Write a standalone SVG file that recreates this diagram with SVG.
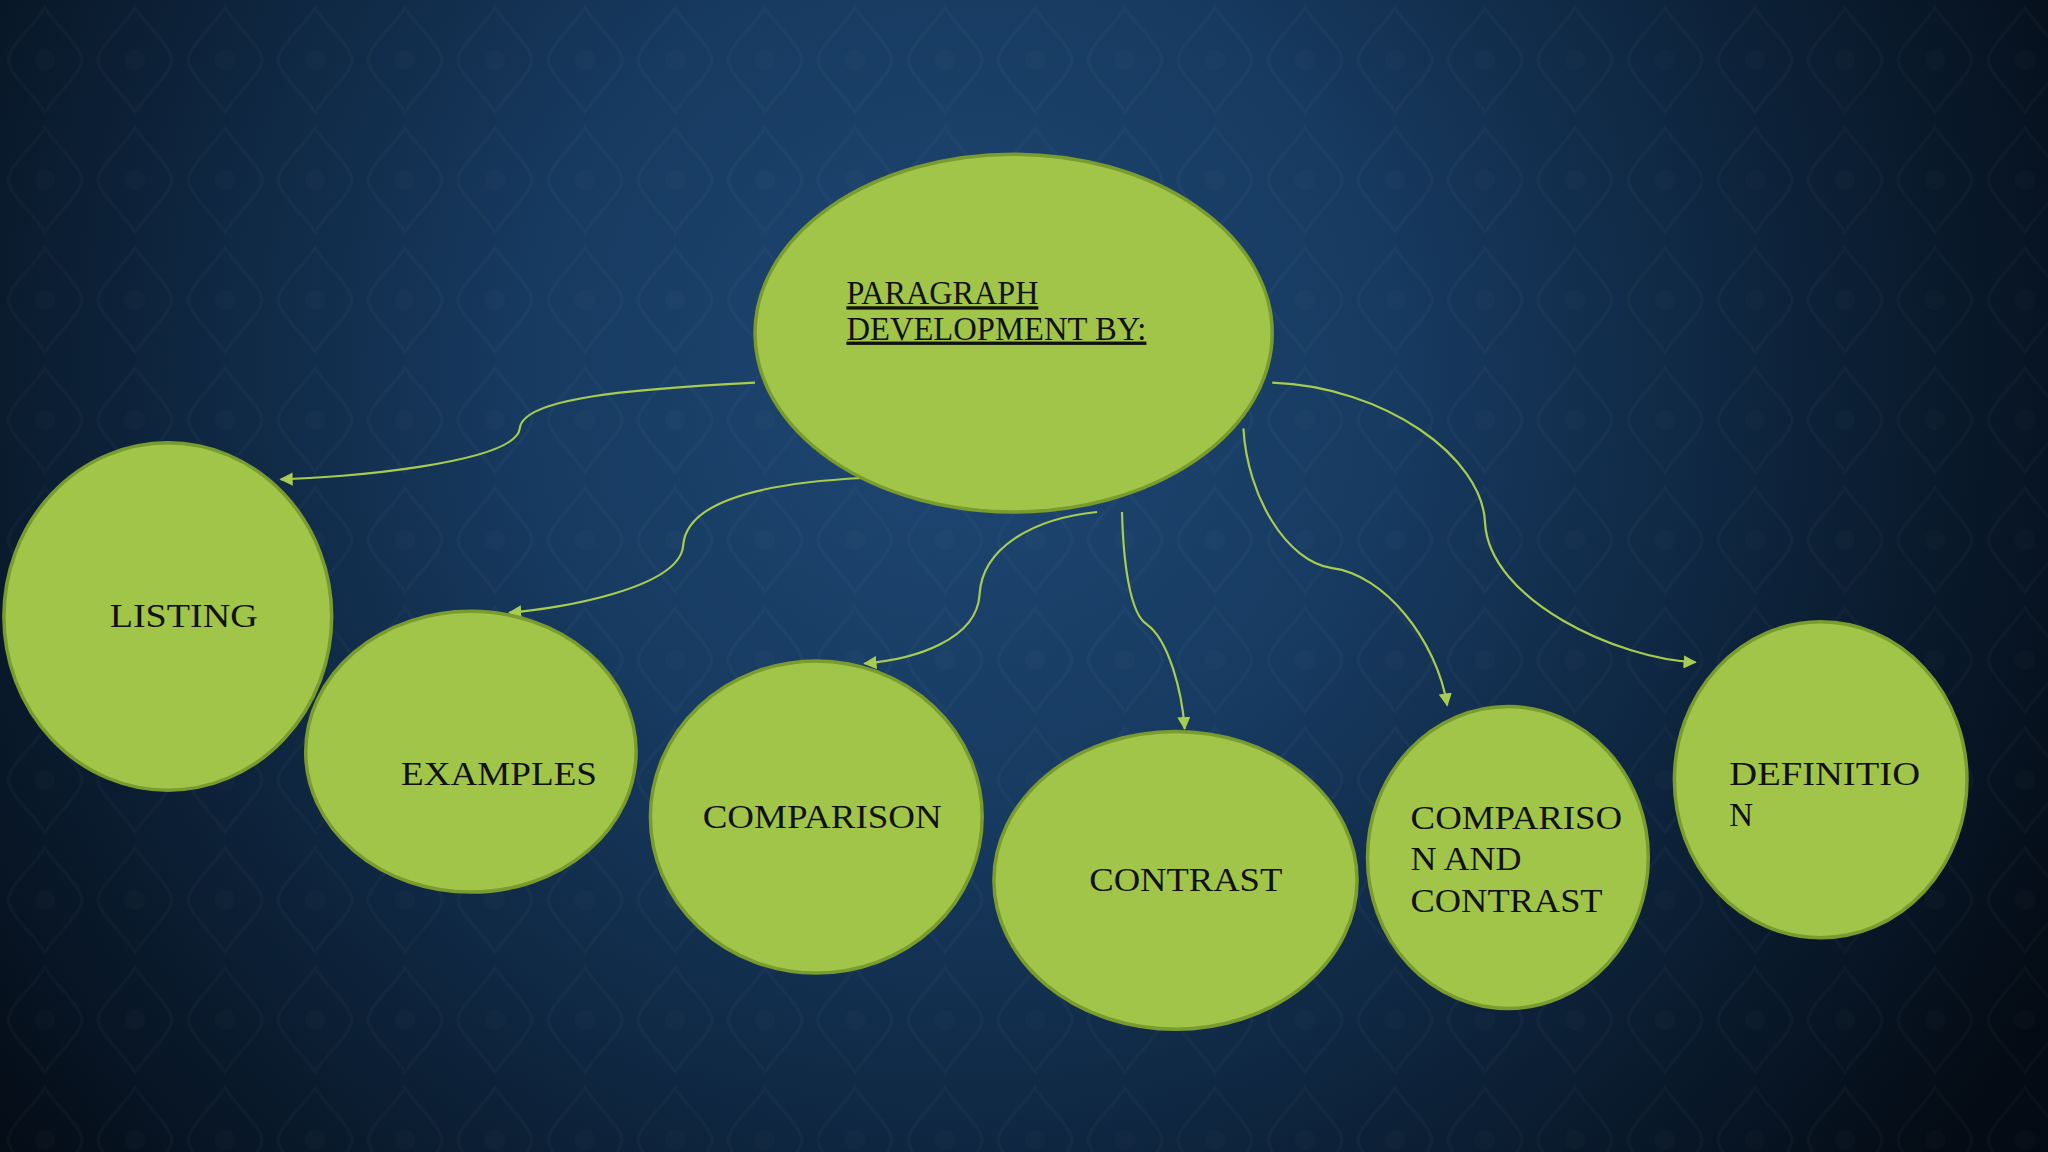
<svg xmlns="http://www.w3.org/2000/svg" width="2048" height="1152" viewBox="0 0 2048 1152">
<defs>
<radialGradient id="bg" cx="960" cy="380" r="1250" gradientUnits="userSpaceOnUse">
<stop offset="0" stop-color="#1f4874"/>
<stop offset="0.35" stop-color="#173a60"/>
<stop offset="0.7" stop-color="#0c2036"/>
<stop offset="1" stop-color="#040b14"/>
</radialGradient>
<pattern id="damask" width="90" height="120" patternUnits="userSpaceOnUse">
<path d="M45 8 C60 30 80 45 82 60 C80 75 60 90 45 112 C30 90 10 75 8 60 C10 45 30 30 45 8 Z" fill="none" stroke="#ffffff" stroke-width="3" opacity="0.022"/>
<circle cx="45" cy="60" r="10" fill="#ffffff" opacity="0.015"/>
</pattern>
<marker id="arr" viewBox="0 0 10 10" refX="9" refY="5" markerWidth="6" markerHeight="6" orient="auto" markerUnits="strokeWidth">
<path d="M0 0 L10 5 L0 10 Z" fill="#a8cc50"/>
</marker>
<style>
.node{fill:#a1c548;stroke:#7a9b2e;stroke-width:3.5}
.lbl{font-family:"Liberation Serif","DejaVu Serif",serif;font-size:33px;fill:#111}
.conn{fill:none;stroke:#a8cc50;stroke-width:2.2}
</style>
</defs>
<rect width="2048" height="1152" fill="url(#bg)"/>
<rect width="2048" height="1152" fill="url(#damask)"/>

<g id="connectors">
<path class="conn" marker-end="url(#arr)" d="M755,382.7 C627,389.2 522.4,398.4 519.8,428.4 C515.9,463.7 339.6,478 280.8,479.3"/>
<path class="conn" marker-end="url(#arr)" d="M862,478 C757.6,483.3 685.7,502.9 683.1,546 C679.2,587.8 561.6,608.7 509.4,612.6"/>
<path class="conn" marker-end="url(#arr)" d="M1097.1,512 C1031.8,518.5 982.2,548.6 979.6,594.3 C977,640 914.3,659.6 864.6,663.5"/>
<path class="conn" marker-end="url(#arr)" d="M1122,512 C1123.3,561.6 1129.8,613.9 1146.8,624.3 C1169,640 1182,692.2 1184.7,728.8"/>
<path class="conn" marker-end="url(#arr)" d="M1243.4,428.4 C1247.3,496.3 1286.5,561.6 1332.2,568.2 C1384.5,574.7 1436.7,640 1447.2,705.3"/>
<path class="conn" marker-end="url(#arr)" d="M1272.2,382.7 C1384.5,386.6 1482.4,457.1 1485,522.4 C1489,600.8 1619.6,659.6 1695.4,662.2"/>
</g>

<g id="node-main">
<ellipse class="node" cx="1013.6" cy="333.1" rx="258.6" ry="178.9"/>
<text class="lbl" x="846.4" y="304.3" text-decoration="underline" textLength="192" lengthAdjust="spacingAndGlyphs">PARAGRAPH</text>
<text class="lbl" x="846.4" y="339.6" text-decoration="underline" textLength="300" lengthAdjust="spacingAndGlyphs">DEVELOPMENT BY:</text>
</g>

<g id="node-listing">
<ellipse class="node" cx="167.8" cy="616.5" rx="163.9" ry="173.7"/>
<text class="lbl" x="109.7" y="627" textLength="148" lengthAdjust="spacingAndGlyphs">LISTING</text>
</g>

<g id="node-examples">
<ellipse class="node" cx="470.9" cy="751.7" rx="165.2" ry="140.4"/>
<text class="lbl" x="401" y="785" textLength="196" lengthAdjust="spacingAndGlyphs">EXAMPLES</text>
</g>

<g id="node-comparison">
<ellipse class="node" cx="816.3" cy="817" rx="165.9" ry="156.1"/>
<text class="lbl" x="702.7" y="828" textLength="239" lengthAdjust="spacingAndGlyphs">COMPARISON</text>
</g>

<g id="node-contrast">
<ellipse class="node" cx="1175.5" cy="880.3" rx="181.6" ry="148.9"/>
<text class="lbl" x="1089.3" y="890.8" textLength="193" lengthAdjust="spacingAndGlyphs">CONTRAST</text>
</g>

<g id="node-comparison-contrast">
<ellipse class="node" cx="1507.9" cy="857.5" rx="140.4" ry="150.9"/>
<text class="lbl" x="1410.6" y="829.4" textLength="211.6" lengthAdjust="spacingAndGlyphs">COMPARISO</text>
<text class="lbl" x="1410.6" y="869.9" textLength="111" lengthAdjust="spacingAndGlyphs">N AND</text>
<text class="lbl" x="1410.6" y="911.7" textLength="192" lengthAdjust="spacingAndGlyphs">CONTRAST</text>
</g>

<g id="node-definition">
<ellipse class="node" cx="1820.7" cy="779.8" rx="146.3" ry="158"/>
<text class="lbl" x="1729.3" y="785" textLength="190.7" lengthAdjust="spacingAndGlyphs">DEFINITIO</text>
<text class="lbl" x="1729.3" y="825.5">N</text>
</g>
</svg>
